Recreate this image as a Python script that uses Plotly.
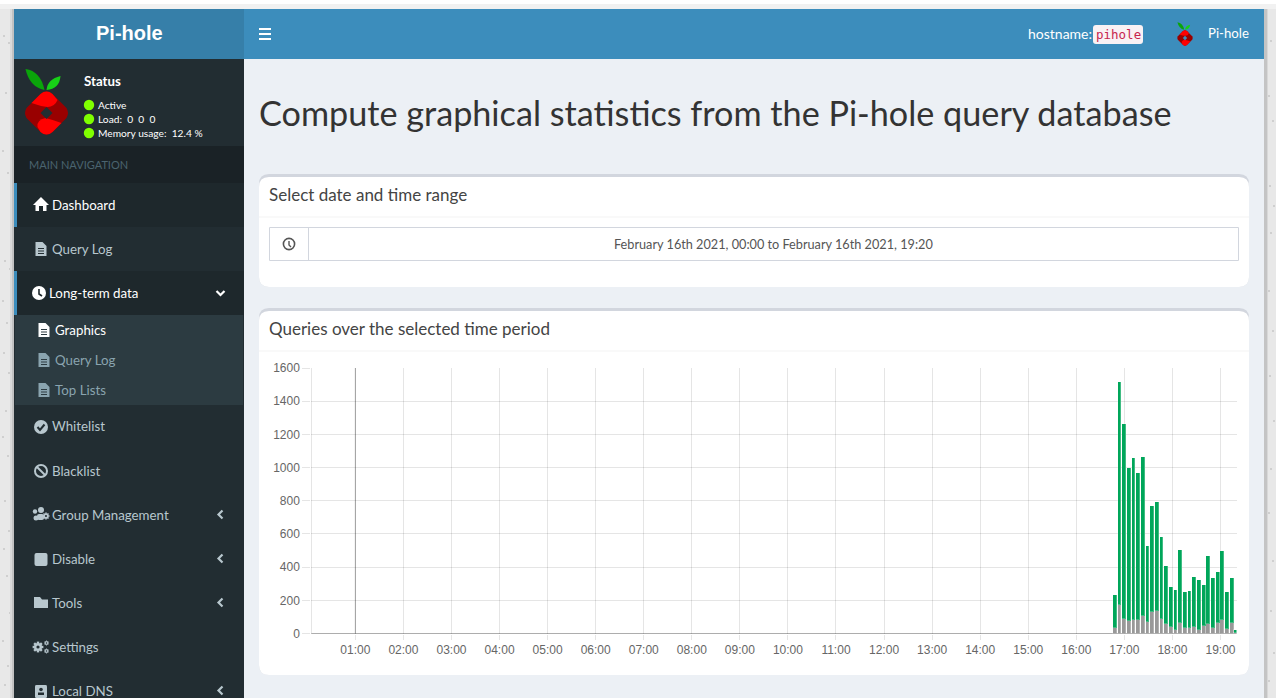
import math
import plotly.graph_objects as go

# ---------- data ----------
bar_times = ["16:48:30","16:54:20","17:00:10","17:06:00","17:11:50","17:17:40","17:23:30","17:29:20","17:35:10",
             "17:41:00","17:46:50","17:52:40","17:58:30","18:04:20","18:10:10","18:16:00","18:21:50","18:27:40",
             "18:33:30","18:39:20","18:45:10","18:51:00","18:56:50","19:02:40","19:08:30","19:14:20","19:20:10"]
blocked = [32,169,85,78,82,80,105,72,127,135,85,56,42,24,66,36,36,42,20,48,60,34,66,80,30,66,2]
totals = [233,1515,1263,998,1056,970,1064,525,768,793,579,404,278,262,503,253,255,340,324,290,467,332,368,495,252,332,22]
permitted = [t - b for t, b in zip(totals, blocked)]
hour_labels = ["%02d:00" % h for h in range(1, 20)]
y_ticks = [0,200,400,600,800,1000,1200,1400,1600]
nav_items = [("Query Log",249),("Whitelist",427),("Blacklist",471),("Group Management",515),("Disable",559),
             ("Tools",603),("Settings",647),("Local DNS",691)]
speckles = [(3,35),(8,42),(5,92),(2,150),(7,172),(4,260),(9,268),(2,300),(6,322),(3,352),(8,372),(5,410),(2,436),
            (7,455),(4,500),(8,530),(3,548),(6,575),(9,612),(2,640),(7,665),(4,684),
            (1270,40),(1268,95),(1272,120),(1269,185),(1273,205),(1270,232),(1268,290),(1272,330),(1269,375),
            (1273,420),(1270,468),(1268,512),(1272,560),(1270,610),(1273,652),(1268,680)]

W, H = 1276, 698
DAY = "2021-02-16 "
SANS = "Lato"
shapes, annos = [], []

def X(x): return x / W
def Y(y): return 1 - y / H

def rect(x0, y0, x1, y1, fill, line=None, lw=1):
    shapes.append(dict(type="rect", xref="paper", yref="paper", x0=X(x0), x1=X(x1), y0=Y(y0), y1=Y(y1),
                       fillcolor=fill, line=dict(color=line or "rgba(0,0,0,0)", width=lw if line else 0), layer="below"))

def path(cmds, fill="rgba(0,0,0,0)", line=None, lw=1):
    out = []
    for c in cmds:
        out.append(c[0] + " ".join("%.5f,%.5f" % (X(c[i]), Y(c[i + 1])) for i in range(1, len(c), 2)))
    shapes.append(dict(type="path", xref="paper", yref="paper", path=" ".join(out) + "",
                       fillcolor=fill, line=dict(color=line or "rgba(0,0,0,0)", width=lw if line else 0), layer="below"))

def circle(cx, cy, r, fill, line=None, lw=1):
    shapes.append(dict(type="circle", xref="paper", yref="paper", x0=X(cx - r), x1=X(cx + r), y0=Y(cy - r), y1=Y(cy + r),
                       fillcolor=fill, line=dict(color=line or "rgba(0,0,0,0)", width=lw if line else 0), layer="below"))

def text(x, y, s, size=13.3, color="#333", font=SANS, anchor="left"):
    annos.append(dict(xref="paper", yref="paper", x=X(x), y=Y(y), text=s, showarrow=False, xanchor=anchor, yanchor="middle",
                      font=dict(family=font, size=size, color=color), borderpad=0, borderwidth=0))

def rrect(x0, y0, x1, y1, r, fill, line=None, lw=1):
    path([("M", x0 + r, y0), ("L", x1 - r, y0), ("Q", x1, y0, x1, y0 + r), ("L", x1, y1 - r), ("Q", x1, y1, x1 - r, y1),
          ("L", x0 + r, y1), ("Q", x0, y1, x0, y1 - r), ("L", x0, y0 + r), ("Q", x0, y0, x0 + r, y0), ("Z",)], fill, line, lw)

def poly(pts, fill):
    path([("M", *pts[0])] + [("L", *p) for p in pts[1:]] + [("Z",)], fill)

def logo(cx, cy, s, hole):
    # leaves
    path([("M", cx - 21 * s, cy - 44 * s), ("Q", cx - 6 * s, cy - 42 * s, cx - 2 * s, cy - 23 * s),
          ("Q", cx - 17 * s, cy - 26 * s, cx - 21 * s, cy - 44 * s), ("Z",)], "#0aa50a")
    path([("M", cx + 14 * s, cy - 37 * s), ("Q", cx + 13 * s, cy - 24 * s, cx, cy - 23 * s),
          ("Q", cx + 1 * s, cy - 34 * s, cx + 14 * s, cy - 37 * s), ("Z",)], "#17d017")
    # body
    d = 23 * s
    path([("M", cx - 6 * s, cy - 19 * s), ("Q", cx, cy - 24 * s, cx + 6 * s, cy - 19 * s), ("L", cx + 20 * s, cy - 5 * s),
          ("Q", cx + d, cy, cx + 20 * s, cy + 5 * s), ("L", cx + 6 * s, cy + 19 * s), ("Q", cx, cy + 24 * s, cx - 6 * s, cy + 19 * s),
          ("L", cx - 20 * s, cy + 5 * s), ("Q", cx - d, cy, cx - 20 * s, cy - 5 * s), ("Z",)], "#990000")
    path([("M", cx - 6 * s, cy - 19 * s), ("Q", cx, cy - 24 * s, cx + 6 * s, cy - 19 * s), ("L", cx + 11 * s, cy - 13 * s),
          ("Q", cx + 8 * s, cy - 6 * s, cx + 1 * s, cy - 6 * s), ("Q", cx - 7 * s, cy - 7 * s, cx - 15 * s, cy - 10 * s), ("Z",)], "#ff0000")
    path([("M", cx + 6 * s, cy + 19 * s), ("Q", cx, cy + 24 * s, cx - 6 * s, cy + 19 * s), ("L", cx - 9 * s, cy + 14 * s),
          ("Q", cx - 10 * s, cy + 7 * s, cx - 1 * s, cy + 5 * s), ("Q", cx + 7 * s, cy + 7 * s, cx + 15 * s, cy + 10 * s), ("Z",)], "#ff0000")
    poly([(cx, cy - 6 * s), (cx + 6 * s, cy), (cx, cy + 6 * s), (cx - 6 * s, cy)], hole)

def doc_icon(x, y, c, bg):
    poly([(x, y - 7), (x + 7, y - 7), (x + 11, y - 3), (x + 11, y + 7), (x, y + 7)], c)
    rect(x + 2.5, y - 1, x + 8.5, y, bg)
    rect(x + 2.5, y + 1.5, x + 8.5, y + 2.5, bg)
    rect(x + 2.5, y + 4, x + 8.5, y + 5, bg)

def clock_icon(x, y, r, c, bg, solid=True):
    if solid:
        circle(x, y, r, c)
        path([("M", x, y - 4), ("L", x, y + 1), ("L", x + 3, y + 3)], line=bg, lw=1.6)
    else:
        circle(x, y, r, "rgba(0,0,0,0)", c, 1.6)
        path([("M", x, y - 3), ("L", x, y + 1), ("L", x + 2, y + 3)], line=c, lw=1.4)

def chevron_left(x, y, c="#b8c7ce"):
    path([("M", x + 2, y - 4), ("L", x - 2, y), ("L", x + 2, y + 4)], line=c, lw=2.2)

def gear(x, y, r, c, bg):
    circle(x, y, r, c, c, 0)
    for i in range(8):
        a = i * math.pi / 4
        ca, sa = math.cos(a), math.sin(a)
        w = r * 0.3
        poly([(x + ca * r * .8 - sa * w, y + sa * r * .8 + ca * w), (x + ca * r * 1.35 - sa * w, y + sa * r * 1.35 + ca * w),
              (x + ca * r * 1.35 + sa * w, y + sa * r * 1.35 - ca * w), (x + ca * r * .8 + sa * w, y + sa * r * .8 - ca * w)], c)
    circle(x, y, r * .4, bg)

# ---------- page chrome ----------
SIDE, ACT, SUB = "#222d32", "#1e282c", "#2c3b41"
HEAD, HEAD2 = "#3c8dbc", "#367fa9"
rect(0, 0, W, H, "#e8e8e8")
rect(0, 0, W, 4, "#ffffff")
rect(0, 4, W, 9, "#f1f1f1")
for sx, sy in speckles:
    rect(sx, sy, sx + 2, sy + 2, "#cfcfcf")
rect(10, 9, 12, H, "#dadada")
rect(12, 9, 14, H, "#c2c2c2")
rect(1264, 9, 1267, H, "#c4c4c4")
rect(1267, 9, 1268, H, "#d8d8d8")
rect(14, 59, 1264, H, "#ecf0f5")
rect(14, 59, 244, H, SIDE)
rect(14, 9, 244, 59, HEAD2)
rect(244, 9, 1264, 59, HEAD)

text(129, 33.5, "<b>Pi-hole</b>", 20, "#ffffff", "Liberation Sans", "center")
for i in (-5, 0, 5):
    rect(259, 34 + i - 1, 271, 34 + i + 1, "#ffffff")

text(1028, 33.5, "hostname:", 14, "#ffffff")
rrect(1093, 25, 1143, 44, 3, "#f9f2f4")
text(1118, 34.5, "pihole", 12.5, "#c7254e", "DejaVu Sans Mono", "center")
logo(1185, 38, 0.36, "#3c8dbc")
text(1208, 33.5, "Pi-hole", 13.2, "#ffffff")

# user panel
logo(46.5, 113, 1.0, SIDE)
text(84, 81, "<b>Status</b>", 13.3, "#ffffff")
for yy, s in ((105, "Active"), (119, "Load:&nbsp; 0&nbsp; 0&nbsp; 0"), (133, "Memory usage:&nbsp; 12.4 %")):
    circle(89, yy, 5.2, "#7fff00")
    text(97.5, yy, s, 10.2, "#ffffff")

# navigation
rect(14, 146, 244, 183, "#1a2226")
text(29, 165, "MAIN NAVIGATION", 11, "#4b646f")
rect(14, 183, 244, 227, ACT)
rect(14, 183, 17, 227, HEAD)
poly([(33, 205), (41, 197), (49, 205), (46.5, 205), (46.5, 211), (43, 211), (43, 206), (39, 206), (39, 211), (35.5, 211), (35.5, 205)], "#ffffff")
text(52, 204.5, "Dashboard", 13.3, "#ffffff")
rect(14, 271, 244, 315, ACT)
rect(14, 271, 17, 315, HEAD)
clock_icon(39, 293, 7, "#ffffff", ACT)
text(49, 292.5, "Long-term data", 13.3, "#ffffff")
path([("M", 216.5, 291), ("L", 220.5, 295), ("L", 224.5, 291)], line="#ffffff", lw=2.2)
rect(15, 315, 243, 405, SUB)
doc_icon(38.5, 330, "#ffffff", SUB)
text(55, 329.5, "Graphics", 13.3, "#ffffff")
doc_icon(38.5, 360, "#8aa4af", SUB)
text(55, 359.5, "Query Log", 13.3, "#8aa4af")
doc_icon(38.5, 390, "#8aa4af", SUB)
text(55, 389.5, "Top Lists", 13.3, "#8aa4af")

NC = "#b8c7ce"
for label, yy in nav_items:
    text(52, yy - 0.5, label, 13.3, NC)
doc_icon(35.5, 249, NC, SIDE)
circle(41, 427, 7, NC)
path([("M", 37.5, 427), ("L", 40, 430), ("L", 44.5, 424.5)], line=SIDE, lw=2)
circle(41, 471, 6, "rgba(0,0,0,0)", NC, 2)
path([("M", 37, 467), ("L", 45, 475)], line=NC, lw=2)
circle(35, 511.5, 2.2, NC); circle(41, 510, 3, NC); circle(36, 518, 2.5, NC)
rrect(37, 514, 44, 520, 2, NC)
gear(46, 516, 2.6, NC, SIDE)
rrect(34.5, 553, 47.5, 566, 2, NC)
path([("M", 34, 597), ("L", 40, 597), ("L", 42, 599.5), ("L", 48, 599.5), ("L", 48, 608), ("L", 34, 608), ("Z",)], NC)
gear(38, 647, 4, NC, SIDE)
gear(46.5, 643, 1.8, NC, SIDE)
gear(46.5, 651, 1.8, NC, SIDE)
rrect(35, 685, 47, 698, 1.5, NC)
circle(41, 689.5, 1.8, SIDE)
rect(38, 692.5, 44, 695, SIDE)
for yy in (515, 559, 603, 691):
    chevron_left(220.5, yy - 0.5)

# content
text(259, 112.5, "Compute graphical statistics from the Pi-hole query database", 34.2, "#333333")
for (y0, y1, sep, title) in ((174, 287, 216.5, "Select date and time range"), (308, 675, 350.5, "Queries over the selected time period")):
    rrect(259, y0, 1249, y1, 10, "#d2d6de")
    rrect(259, y0 + 3, 1249, y1, 10, "#ffffff")
    rect(259, sep, 1249, sep + 1, "#f4f4f4")
    text(269, (y0 + sep) / 2 - 0.5, title, 17, "#444444")
rect(269.5, 227.5, 1238.5, 260.5, "#ffffff", "#d2d6de", 1)
rect(308, 228, 309, 260, "#d2d6de")
clock_icon(289, 244, 5.6, "#555555", "#ffffff", solid=False)
text(773.5, 243.5, "February 16th 2021, 00:00 to February 16th 2021, 19:20", 12.7, "#555555", SANS, "center")

# ---------- chart ----------
times = [DAY + t for t in bar_times]
BAR_W = 4.7 * 60 * 1000
grid = "rgba(0,0,0,0.1)"
fig = go.Figure()
fig.add_bar(x=times, y=blocked, width=BAR_W, name="Blocked", marker=dict(color="#999999", line=dict(color="rgba(255,255,255,0.25)", width=1)))
fig.add_bar(x=times, y=permitted, width=BAR_W, name="Permitted", marker=dict(color="#00a65a", line=dict(color="rgba(255,255,255,0.25)", width=1)))
hour_vals = [DAY + h for h in hour_labels]
shapes.append(dict(type="line", xref="x", yref="paper", x0=hour_vals[0], x1=hour_vals[0], y0=Y(633.5), y1=Y(368),
                   line=dict(color="rgba(0,0,0,0.32)", width=1), layer="below"))
fig.update_layout(
    width=W, height=H, margin=dict(l=0, r=0, t=0, b=0, autoexpand=False), paper_bgcolor="#ecf0f5", plot_bgcolor="rgba(0,0,0,0)",
    barmode="stack", showlegend=False, shapes=shapes, annotations=annos, bargap=0,
    font=dict(family="Liberation Sans", size=12, color="#666666"),
    xaxis=dict(type="date", domain=[X(311.3), X(1236.5)], range=[DAY + "00:05:00", DAY + "19:20:00"], anchor="y",
               tickmode="array", tickvals=hour_vals, ticktext=hour_labels, showgrid=True, gridcolor=grid, gridwidth=1,
               ticks="outside", ticklen=5, tickcolor=grid, showline=False, zeroline=False, tickfont=dict(size=12, color="#666666")),
    yaxis=dict(domain=[Y(633.5), Y(368)], range=[0, 1600], tickmode="array", tickvals=y_ticks, showgrid=True, gridcolor=grid,
               gridwidth=1, ticks="outside", ticklen=8, tickcolor=grid, zeroline=False, showline=False, tickfont=dict(size=12, color="#666666")),
)
rect(311.3, 633, 1236.5, 634, "rgba(0,0,0,0.32)")
rect(311, 368, 312, 633.5, grid)
fig.update_layout(shapes=shapes)
fig.write_html("out.html", config=dict(displayModeBar=False),
               post_script="document.body.style.margin='0';document.body.style.overflow='hidden';")
